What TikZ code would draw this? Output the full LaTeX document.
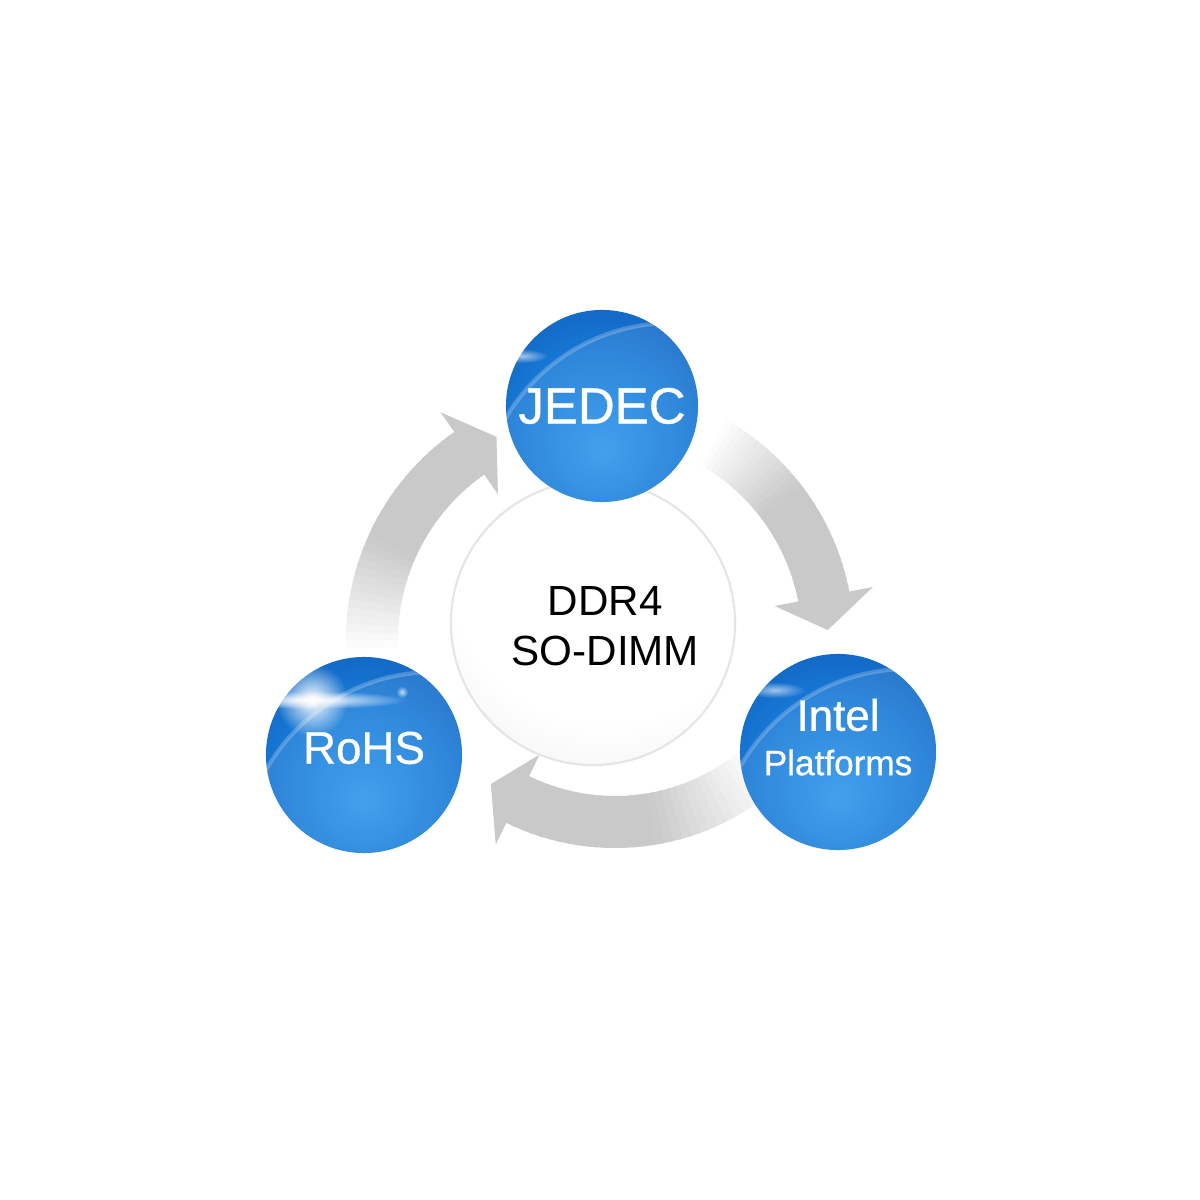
\documentclass[tikz,border=0pt]{standalone}
\usepackage{fontspec}
\setmainfont{Liberation Sans}
\usetikzlibrary{fadings}

\definecolor{arrowgray}{RGB}{201,201,201}
\definecolor{ballhi}{RGB}{45,150,235}
\definecolor{ballmid}{RGB}{24,122,215}
\definecolor{balledge}{RGB}{10,74,168}
\definecolor{discedge}{RGB}{222,222,222}

\pgfdeclareradialshading{ballblue}{\pgfpoint{0bp}{-12bp}}{color(0bp)=(ballhi); color(22bp)=(ballmid); color(50bp)=(balledge); color(75bp)=(balledge)}
\pgfdeclareradialshading{discwhite}{\pgfpoint{4bp}{16bp}}{color(0bp)=(white); color(28bp)=(white); color(58bp)=(discedge); color(80bp)=(discedge)}
\tikzfading[name=glow, inner color=transparent!0, outer color=transparent!100]

\tikzset{
	ball/.style={circle, shade, shading=ballblue, text=white, inner sep=0pt},
	disc/.style={circle, shade, shading=discwhite, draw=black!10, line width=0.6pt},
	ballword/.style={text=white, inner sep=0pt},
}

% curved arrow: centre, radius, start angle, head angle, tip angle
\newcommand{\arcarrow}[5]{%
	\foreach \k in {0,...,29}{
		\pgfmathsetmacro{\angA}{#3+(#4-#3)*\k/30}
		\pgfmathsetmacro{\angB}{#3+(#4-#3)*(\k+1.3)/30}
		\pgfmathtruncatemacro{\tone}{min(100,6+\k*7)}
		\fill[arrowgray!\tone!white] ([shift={(#1)}]\angA:#2+26) arc[start angle=\angA, end angle=\angB, radius=#2+26]
			-- ([shift={(#1)}]\angB:#2-26) arc[start angle=\angB, end angle=\angA, radius=#2-26] -- cycle;
	}
	\fill[arrowgray] ([shift={(#1)}]#4:#2+50) -- ([shift={(#1)}]#5:#2) -- ([shift={(#1)}]#4:#2-50) -- cycle;
}

% gloss line on a ball: node, radius
\newcommand{\gloss}[2]{%
	\begin{scope}
		\clip (#1.center) circle[radius=#2];
		\fill[white, opacity=.10] ([shift={(70,-110)}]#1.center) circle[radius=193];
		\draw[white, opacity=.22, line width=1.2pt] ([shift={(70,-110)}]#1.center) circle[radius=193];
	\end{scope}
}

\begin{document}
\begin{tikzpicture}[x=0.01cm, y=0.01cm]
	\fill[white] (0,0) rectangle (1200,1200);
	\useasboundingbox (0,0) rectangle (1200,1200);

	% Arrow centres
	\coordinate (hub) at (600,560);
	\coordinate (hublow) at (615,600);

	% Grey arrows round the cycle
	\arcarrow{hub}{228}{60}{11}{2.5}
	\arcarrow{hublow}{222}{-50}{-116}{-124}
	\arcarrow{hub}{228}{182}{125}{117}

	% Middle disc
	\node[disc, minimum size=2.84cm] (mem) at (593,577) {};
	\node[font=\fontsize{12}{14.2}\selectfont, align=center] (memtext) at ([xshift=3.5pt,yshift=-1pt]mem.center) {DDR4\\SO-DIMM};

	% Blue balls
	\node[ball, minimum size=1.92cm, font=\fontsize{14.5}{17}\selectfont\addfontfeature{FakeBold=0.8}] (jedec) at (602,794) {JEDEC};
	\node[ball, minimum size=1.96cm] (intel) at (838,448) {};
	\node[ball, minimum size=1.96cm] (rohs) at (364,445) {};
	\gloss{jedec}{96}
	\gloss{intel}{98}
	\gloss{rohs}{98}

	% Flares
	\fill[white, path fading=glow] ([shift={(-52,55)}]rohs.center) circle[radius=36];
	\fill[white, path fading=glow] ([shift={(-52,55)}]rohs.center) ellipse[x radius=95, y radius=9];
	\fill[white, opacity=.7, path fading=glow] ([shift={(38,63)}]rohs.center) circle[radius=6];
	\fill[white, opacity=.6, path fading=glow] ([shift={(-63,62)}]intel.center) ellipse[x radius=30, y radius=8];
	\fill[white, opacity=.6, path fading=glow] ([shift={(-80,50)}]jedec.center) ellipse[x radius=26, y radius=7];

	% Ball texts
	\node[ballword, font=\fontsize{13}{15}\selectfont\addfontfeature{FakeBold=0.8}] (rohstext) at ([yshift=2pt]rohs.center) {RoHS};
	\node[ballword, font=\fontsize{12.5}{15}\selectfont\addfontfeature{FakeBold=0.8}] (inteltop) at ([yshift=10.5pt]intel.center) {Intel};
	\node[ballword, font=\fontsize{10}{12}\selectfont\addfontfeature{FakeBold=0.8}] (intelbot) at ([yshift=-3pt]intel.center) {Platforms};

\end{tikzpicture}
\end{document}
